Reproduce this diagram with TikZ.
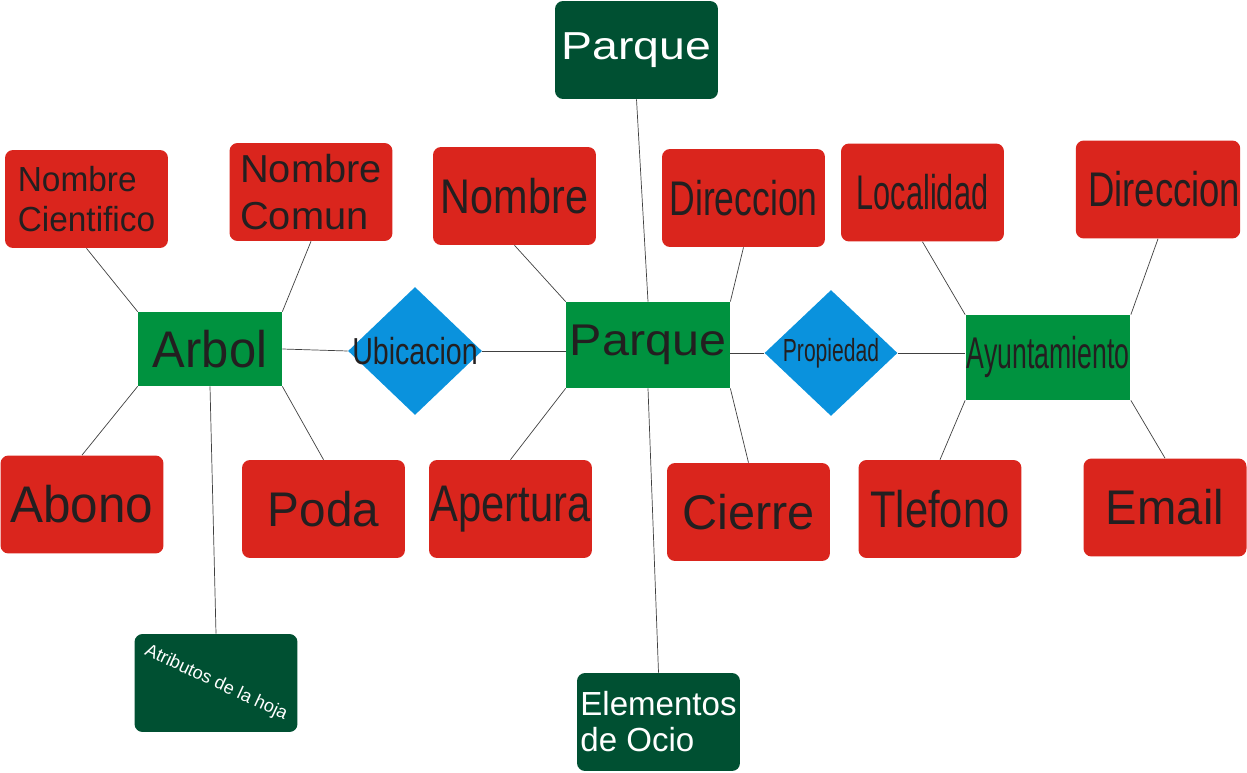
\documentclass[tikz,border=0pt]{standalone}
\usepackage{fontspec}
\usetikzlibrary{shapes.geometric}

\definecolor{rojo}{RGB}{218,37,29}
\definecolor{verde}{RGB}{0,146,63}
\definecolor{verdeosc}{RGB}{0,80,50}
\definecolor{azul}{RGB}{10,146,221}
\definecolor{texto}{RGB}{35,31,32}

% stretch, size, baselineskip
\newcommand{\fnt}[3]{\fontspec{Liberation Sans}[FakeStretch=#1]\fontsize{#2}{#3}\selectfont}

\begin{document}
\begin{tikzpicture}[x=0.02cm,y=-0.02cm,
  atrib/.style={fill=rojo,rounded corners=0.16cm,minimum width=3.26cm,minimum height=1.96cm,inner sep=0pt,text=texto},
  entidad/.style={fill=verde,inner sep=0pt,text=texto},
  rel/.style={diamond,fill=azul,inner sep=0pt,minimum width=2.68cm,minimum height=2.56cm},
  extra/.style={fill=verdeosc,rounded corners=0.16cm,minimum width=3.26cm,minimum height=1.96cm,inner sep=0pt,text=white},
  linea/.style={draw=black!75,line width=0.4pt}]
  \useasboundingbox (0,0) rectangle (1247,773);

  % entidades y relaciones
  \node[entidad,minimum width=2.88cm,minimum height=1.48cm,font=\fnt{0.95}{29.3pt}{35pt}] (arbol) at (210,349) {Arbol};
  \node[entidad,minimum width=3.28cm,minimum height=1.72cm,font=\fnt{1.09}{25.3pt}{30pt}] (parque) at (648,345) {Parque};
  \node[entidad,minimum width=3.30cm,minimum height=1.70cm,font=\fnt{0.60}{25.3pt}{30pt}] (ayunt) at (1048,357.5) {Ayuntamiento};
  \node[rel,label={[text=texto,font=\fnt{0.76}{21.4pt}{26pt}]center:Ubicacion}] (ubic) at (415,351) {};
  \node[rel,minimum width=2.66cm,minimum height=2.52cm,label={[text=texto,font=\fnt{0.66}{18.2pt}{22pt}]center:Propiedad}] (prop) at (831,353) {};

  % atributos de arriba
  \node[atrib,align=left,font=\fnt{0.96}{19.8pt}{22.7pt}] (ncient) at (86.5,199) {Nombre\\Cientifico};
  \node[atrib,align=left,font=\fnt{1.02}{22.2pt}{26.6pt}] (ncomun) at (311,192) {Nombre\\Comun};
  \node[atrib,font=\fnt{0.85}{27.7pt}{33pt}] (nombre) at (514.5,196) {Nombre};
  \node[atrib,font=\fnt{0.73}{27.7pt}{33pt}] (direc) at (743.5,198) {Direccion};
  \node[atrib,font=\fnt{0.63}{27.7pt}{33pt}] (local) at (922.5,192.5) {Localidad};
  \node[atrib,font=\fnt{0.75}{27.7pt}{33pt}] (direcb) at (1158,189.5) {\hspace{7pt}Direccion};
  \node[extra,font=\fnt{1.19}{22.2pt}{27pt}] (ptop) at (636.5,50) {Parque};

  % atributos de abajo
  \node[atrib,font=\fnt{0.96}{29.3pt}{35pt}] (abono) at (82,504.5) {Abono};
  \node[atrib,font=\fnt{0.98}{27.7pt}{33pt}] (poda) at (323.5,509) {Poda};
  \node[atrib,font=\fnt{0.81}{29.3pt}{35pt}] (apert) at (510.5,509) {Apertura};
  \node[atrib,font=\fnt{1.0}{27.7pt}{33pt}] (cierre) at (748.5,512) {Cierre};
  \node[atrib,font=\fnt{0.81}{29.3pt}{35pt}] (tlef) at (940,509) {Tlefono};
  \node[atrib,font=\fnt{0.97}{27.7pt}{33pt}] (email) at (1165,507.5) {Email};
  \node[extra,label={[rotate=-25,text=white,font=\fnt{1}{10.3pt}{12pt}]center:Atributos de la hoja}] (hoja) at (216,683) {};
  \node[extra,align=left,font=\fnt{0.99}{19pt}{20.5pt}] (ocio) at (658.5,722) {Elementos\\de Ocio};

  % lineas
  \draw[linea] (ncient.south) -- (arbol.north west);
  \draw[linea] (ncomun.south) -- (arbol.north east);
  \draw[linea] (arbol.east) -- (ubic.west);
  \draw[linea] (arbol.south west) -- (abono.north);
  \draw[linea] (arbol.south east) -- (poda.north);
  \draw[linea] (arbol.south) -- (hoja.north);
  \draw[linea] (ubic.east) -- (ubic.east -| parque.west);
  \draw[linea] (ptop.south) -- (parque.north);
  \draw[linea] (nombre.south) -- (parque.north west);
  \draw[linea] (direc.south) -- (parque.north east);
  \draw[linea] (parque.south west) -- (apert.north);
  \draw[linea] (parque.south east) -- (cierre.north);
  \draw[linea] (parque.south) -- (ocio.north);
  \draw[linea] (prop.west -| parque.east) -- (prop.west);
  \draw[linea] (prop.east) -- (prop.east -| ayunt.west);
  \draw[linea] (local.south) -- (ayunt.north west);
  \draw[linea] (direcb.south) -- (ayunt.north east);
  \draw[linea] (ayunt.south west) -- (tlef.north);
  \draw[linea] (ayunt.south east) -- (email.north);
\end{tikzpicture}
\end{document}
